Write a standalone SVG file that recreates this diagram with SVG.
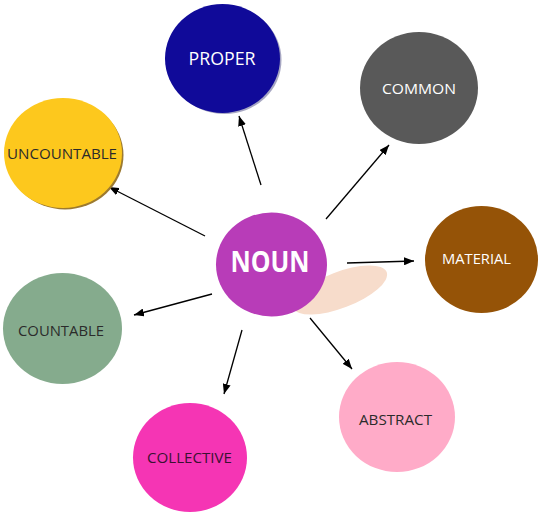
<svg xmlns="http://www.w3.org/2000/svg" width="547" height="522" viewBox="0 0 547 522">
<defs>
<marker id="ah" viewBox="0 0 10 8" refX="10" refY="4" markerWidth="10" markerHeight="8" markerUnits="userSpaceOnUse" orient="auto">
<path d="M0,0 L10,4 L0,8 Z" fill="#000"/>
</marker>
</defs>
<style>
.lbl{font-family:"Open Sans","Noto Sans","DejaVu Sans",sans-serif;font-size:15px;text-anchor:middle}
.w{fill:#ffffff}
.d{fill:#2b2b2b}
.conn line{stroke:#000;stroke-width:1.3;marker-end:url(#ah)}
</style>
<rect width="547" height="522" fill="#ffffff"/>
<g id="connectors" class="conn">
<line x1="261" y1="185" x2="239" y2="116"/>
<line x1="205" y1="236" x2="109" y2="187"/>
<line x1="326" y1="219" x2="389" y2="145"/>
<line x1="347" y1="263" x2="414" y2="261"/>
<line x1="212" y1="294" x2="134" y2="315"/>
<line x1="242" y1="330" x2="224" y2="394"/>
<line x1="310" y1="318" x2="352" y2="369"/>
</g>
<g id="noun">
<ellipse cx="340" cy="290" rx="50" ry="18" transform="rotate(-21 340 290)" fill="#f7dccb"/>
<ellipse cx="271.5" cy="264.5" rx="55.5" ry="52" fill="#b83cb8"/>
<text x="270" y="272" class="lbl w" style="font-size:28px;font-weight:bold" textLength="79" lengthAdjust="spacingAndGlyphs">NOUN</text>
</g>
<g id="proper">
<ellipse cx="224.5" cy="60" rx="57" ry="54" fill="#6a6a9a" opacity="0.6"/>
<ellipse cx="222.5" cy="58.5" rx="57.5" ry="54.5" fill="#100a99"/>
<text x="222" y="64.5" class="lbl w" style="font-size:18px" textLength="67" lengthAdjust="spacingAndGlyphs">PROPER</text>
</g>
<g id="common">
<ellipse cx="419" cy="88" rx="59" ry="56" fill="#595959"/>
<text x="419" y="94" class="lbl w" textLength="74" lengthAdjust="spacingAndGlyphs">COMMON</text>
</g>
<g id="material">
<ellipse cx="481.5" cy="259.5" rx="56.5" ry="53.5" fill="#955307"/>
<text x="476.5" y="264" class="lbl w" textLength="69" lengthAdjust="spacingAndGlyphs">MATERIAL</text>
</g>
<g id="abstract">
<ellipse cx="397" cy="417" rx="58" ry="55" fill="#ffabc8"/>
<text x="395.5" y="425" class="lbl d" textLength="73" lengthAdjust="spacingAndGlyphs">ABSTRACT</text>
</g>
<g id="collective">
<ellipse cx="190" cy="457.5" rx="57" ry="54.5" fill="#f535b4"/>
<text x="189.5" y="463" class="lbl" style="fill:#3a1232" textLength="85" lengthAdjust="spacingAndGlyphs">COLLECTIVE</text>
</g>
<g id="countable">
<ellipse cx="62.5" cy="328.5" rx="59.5" ry="55.5" fill="#85ab8d"/>
<text x="61" y="336" class="lbl d" textLength="86" lengthAdjust="spacingAndGlyphs">COUNTABLE</text>
</g>
<g id="uncountable">
<ellipse cx="65" cy="155" rx="58.5" ry="54.5" fill="#9c7a30"/>
<ellipse cx="63" cy="153" rx="59" ry="55" fill="#fdc81d"/>
<text x="62" y="159" class="lbl d" textLength="110" lengthAdjust="spacingAndGlyphs">UNCOUNTABLE</text>
</g>
</svg>
